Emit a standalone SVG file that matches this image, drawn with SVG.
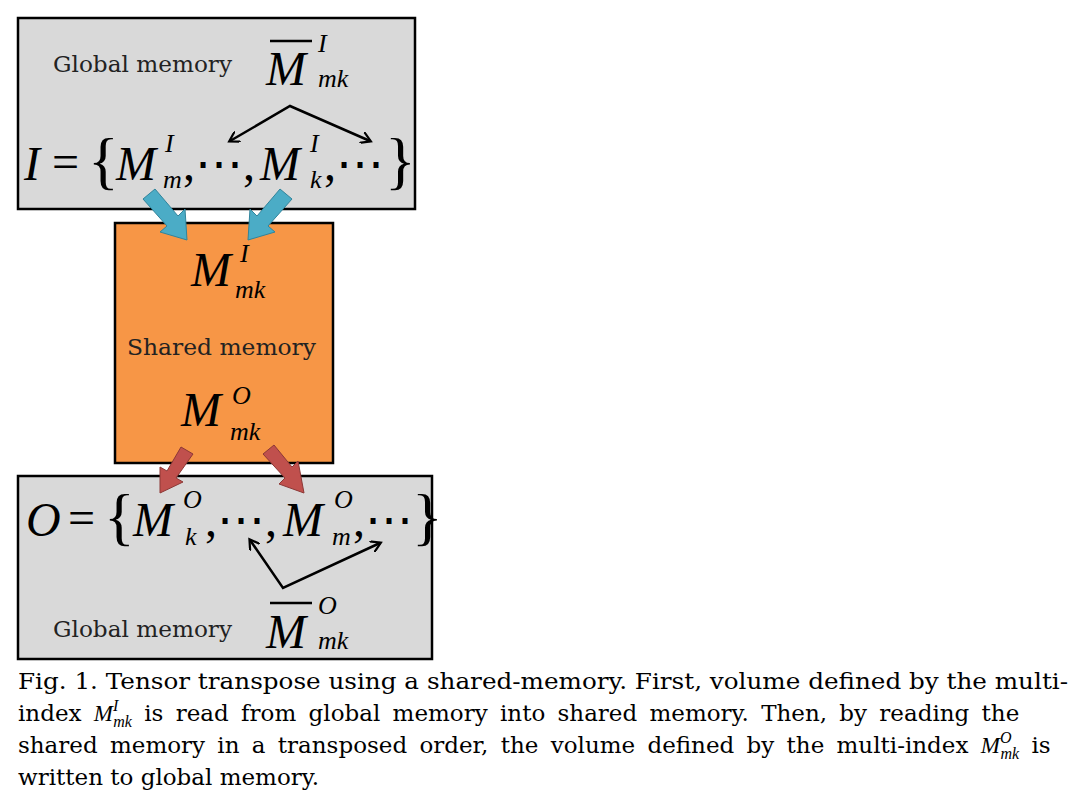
<svg xmlns="http://www.w3.org/2000/svg" width="1080" height="800" viewBox="0 0 1080 800">
<style>
.box{stroke:#000;stroke-width:2.5}
.m{font-family:"Liberation Serif",serif;font-style:italic;fill:#000}
.b{font-size:48px}.s{font-size:26px}.br{font-family:"Liberation Serif",serif;font-size:64px}
.r{font-family:"Liberation Serif",serif}
.lbl{font-family:"DejaVu Serif",serif;font-size:22px;fill:#222}
.cap{font-family:"DejaVu Serif",serif;font-size:23px;fill:#000}
.ln{stroke:#000;stroke-width:2.5;fill:none}
</style>
<defs><marker id="a" markerWidth="12" markerHeight="12" refX="9" refY="6" orient="auto-start-reverse" markerUnits="userSpaceOnUse" viewBox="0 0 12 12"><path d="M0,0 L10,6 L0,12" fill="none" stroke="#000" stroke-width="2.2"/></marker></defs>
<rect width="1080" height="800" fill="#fff"/>
<g id="global-in">
<rect class="box" x="18" y="18" width="397" height="191" fill="#d9d9d9"/>
<text class="lbl" x="53" y="72" textLength="179" lengthAdjust="spacingAndGlyphs">Global memory</text>
<line x1="270" y1="41" x2="312" y2="41" stroke="#000" stroke-width="2.5"/>
<text class="m b" x="266" y="85">M</text><text class="m s" x="318" y="52">I</text><text class="m s" x="318" y="87">mk</text>
<text class="m b" x="24" y="180">I</text><text class="b r" x="52" y="178">=</text>
<text class="br" x="88" y="182">{</text>
<text class="m b" x="116" y="180">M</text><text class="m s" x="165" y="152">I</text><text class="m s" x="163" y="188">m</text>
<text class="b r" x="183" y="180">,⋯,</text>
<text class="m b" x="260" y="180">M</text><text class="m s" x="310" y="152">I</text><text class="m s" x="310" y="188">k</text>
<text class="b r" x="324" y="180">,⋯</text>
<text class="br" x="385" y="182">}</text>
</g>
<g id="shared">
<rect class="box" x="115" y="223" width="218" height="240" fill="#f79646"/>
<text class="m b" x="191" y="286">M</text><text class="m s" x="240" y="262">I</text><text class="m s" x="235" y="298">mk</text>
<text class="lbl" x="127" y="355" textLength="189" lengthAdjust="spacingAndGlyphs">Shared memory</text>
<text class="m b" x="181" y="426">M</text><text class="m s" x="232" y="404">O</text><text class="m s" x="230" y="440">mk</text>
</g>
<g id="global-out">
<rect class="box" x="18" y="476" width="414" height="183" fill="#d9d9d9"/>
<text class="m b" x="26" y="536">O</text><text class="b r" x="68" y="534">=</text>
<text class="br" x="104" y="538">{</text>
<text class="m b" x="133" y="536">M</text><text class="m s" x="183" y="508">O</text><text class="m s" x="185" y="545">k</text>
<text class="b r" x="205" y="536">,⋯,</text>
<text class="m b" x="283" y="536">M</text><text class="m s" x="334" y="508">O</text><text class="m s" x="332" y="545">m</text>
<text class="b r" x="353" y="536">,⋯</text>
<text class="br" x="412" y="538">}</text>
<text class="lbl" x="53" y="637" textLength="179" lengthAdjust="spacingAndGlyphs">Global memory</text>
<line x1="270" y1="603" x2="312" y2="603" stroke="#000" stroke-width="2.5"/>
<text class="m b" x="266" y="648">M</text><text class="m s" x="318" y="614">O</text><text class="m s" x="318" y="649">mk</text>
</g>
<g id="connectors">
<path class="ln" d="M230,141 L290,106 L370,141" marker-start="url(#a)" marker-end="url(#a)"/>
<path class="ln" d="M250,540 L283,588 L380,543" marker-start="url(#a)" marker-end="url(#a)"/>
<polygon points="143,199 155,189 178,216 185,209 187,240 160,232 167,226" fill="#4bacc6" stroke="#31849b" stroke-width="1"/>
<polygon points="292,199 280,189 257,216 250,209 248,240 275,232 268,226" fill="#4bacc6" stroke="#31849b" stroke-width="1"/>
<polygon points="181,447 193,454 176,478 183,482 160,493 160,467 167,471" fill="#c0504d" stroke="#8c3836" stroke-width="1"/>
<polygon points="263,454 274,445 292,467 298,461 304,493 279,484 285,478" fill="#c0504d" stroke="#8c3836" stroke-width="1"/>
</g>
<g id="caption">
<text class="cap" x="18" y="689" textLength="1050" lengthAdjust="spacingAndGlyphs">Fig. 1. Tensor transpose using a shared-memory. First, volume defined by the multi-</text>
<text class="cap" x="18" y="721" word-spacing="5">index <tspan font-style="italic" font-family="Liberation Serif">M</tspan><tspan font-style="italic" font-family="Liberation Serif" font-size="16" dy="-10">I</tspan><tspan font-style="italic" font-family="Liberation Serif" font-size="16" dx="-5" dy="16">mk</tspan><tspan dy="-6"> is read from global memory into shared memory. Then, by reading the</tspan></text>
<text class="cap" x="18" y="753" word-spacing="5">shared memory in a transposed order, the volume defined by the multi-index <tspan font-style="italic" font-family="Liberation Serif">M</tspan><tspan font-style="italic" font-family="Liberation Serif" font-size="16" dy="-10">O</tspan><tspan font-style="italic" font-family="Liberation Serif" font-size="16" dx="-11" dy="16">mk</tspan><tspan dy="-6"> is</tspan></text>
<text class="cap" x="18" y="785">written to global memory.</text>
</g>
</svg>
